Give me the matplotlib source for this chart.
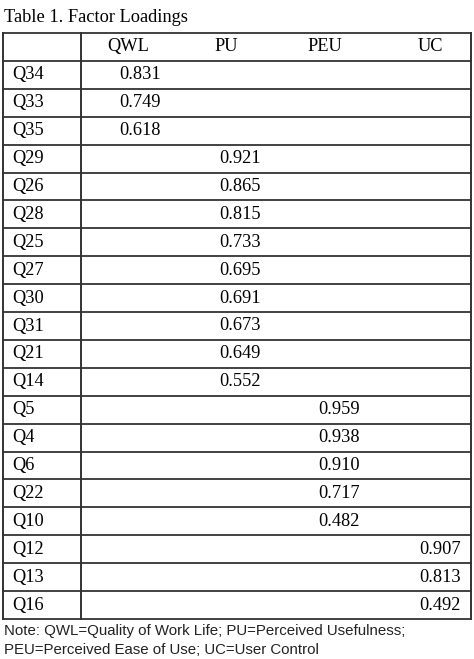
import matplotlib
matplotlib.use("Agg")
import matplotlib.pyplot as plt

title = "Table 1. Factor Loadings"
columns = ["QWL", "PU", "PEU", "UC"]
items = ["Q34","Q33","Q35","Q29","Q26","Q28","Q25","Q27","Q30","Q31","Q21","Q14",
         "Q5","Q4","Q6","Q22","Q10","Q12","Q13","Q16"]
factor = [0,0,0,1,1,1,1,1,1,1,1,1,2,2,2,2,2,3,3,3]
loadings = ["0.831","0.749","0.618","0.921","0.865","0.815","0.733","0.695","0.691",
            "0.673","0.649","0.552","0.959","0.938","0.910","0.717","0.482",
            "0.907","0.813","0.492"]
note = ["Note: QWL=Quality of Work Life; PU=Perceived Usefulness;",
        "PEU=Perceived Ease of Use; UC=User Control"]

fig = plt.figure(figsize=(4.74, 6.59), dpi=100)
ax = fig.add_axes([0, 0, 1, 1])
ax.set_xlim(0, 474); ax.set_ylim(659, 0); ax.axis("off")

serif = "Liberation Serif"
fs = 13.2
left, div, right = 3, 81, 471
top, bottom = 33, 619
n = len(items) + 1
rh = (bottom - top) / n

ax.text(4, 18, title, fontsize=fs, family=serif, va="center", ha="left")
for i in range(n + 1):
    y = top + i * rh
    ax.plot([left, right], [y, y], color="#333333", lw=1.3)
for x in (left, div, right):
    ax.plot([x, x], [top, bottom], color="#333333", lw=1.4)

hdr_x = [128, 226, 325, 430]
for c, x in zip(columns, hdr_x):
    ax.text(x, top + rh / 2, c, fontsize=fs, family=serif, ha="center", va="center")

val_x = [140, 240, 339, 461]
for i, (it, f, v) in enumerate(zip(items, factor, loadings)):
    yc = top + (i + 1.5) * rh
    ax.text(12, yc, it, fontsize=fs, family=serif, ha="left", va="center")
    if f == 3:
        ax.text(val_x[f], yc, v, fontsize=fs, family=serif, ha="right", va="center")
    else:
        ax.text(val_x[f], yc, v, fontsize=fs, family=serif, ha="center", va="center")

for k, line in enumerate(note):
    ax.text(4, 631 + k * 19, line, fontsize=10.8, family="Liberation Sans",
            ha="left", va="center", color="#222222")

fig.savefig("out.png", dpi=100)
